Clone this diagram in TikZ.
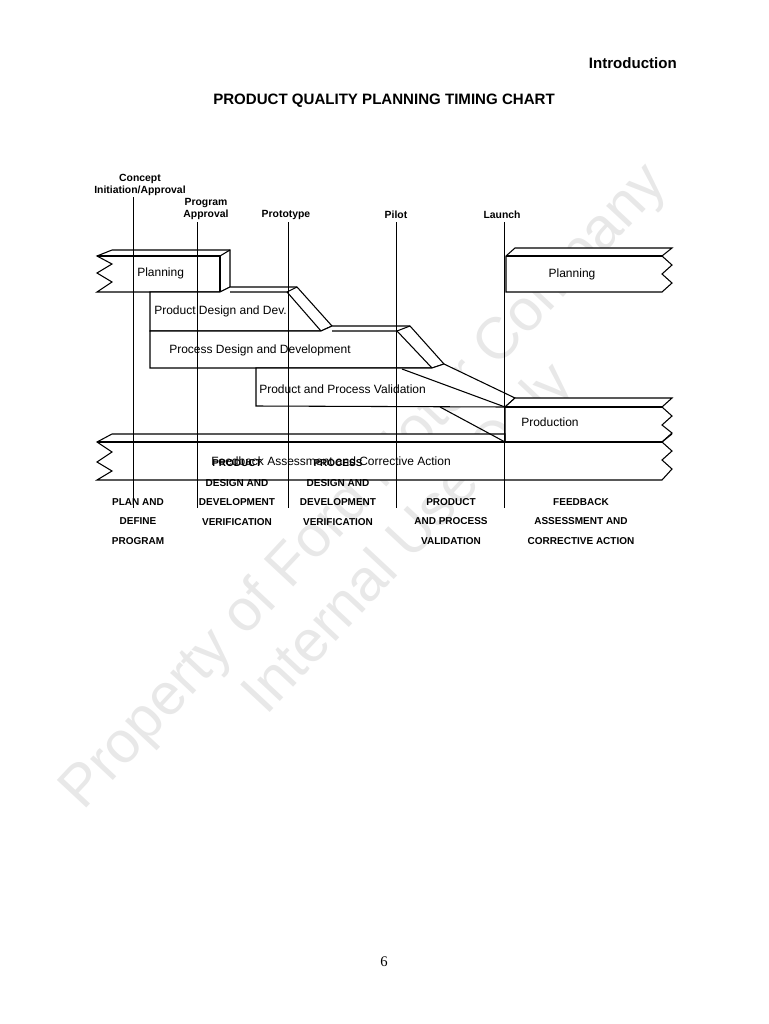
\documentclass[tikz,border=0pt]{standalone}
\usepackage{fontspec}
\setmainfont{Liberation Sans}
\begin{document}
\begin{tikzpicture}[x=0.75pt,y=-0.75pt,
  ln/.style={draw=black,line width=0.8pt,line join=miter},
  vl/.style={draw=black,line width=0.7pt},
  bar/.style={font=\fontsize{9}{11}\selectfont,inner sep=0pt},
  ms/.style={font=\bfseries\fontsize{7.8}{8.8}\selectfont,align=center,inner sep=0pt},
  bl/.style={font=\bfseries\fontsize{7.5}{14.6}\selectfont,align=center,inner sep=0pt},
  wm/.style={text=black!9,font=\fontsize{44}{48}\selectfont}]
\useasboundingbox (0,0) rectangle (768,1024);
% watermark
\node[wm,rotate=47] (wm1) at (365,488) {Property of Ford Motor Company};
\node[wm,rotate=47] (wm2) at (410,540) {Internal Use Only};
% header
\node[anchor=east,inner sep=0pt,font=\bfseries\fontsize{11.3}{13}\selectfont] (intro) at (677,63) {Introduction};
\node[inner sep=0pt,font=\bfseries\fontsize{11.3}{13}\selectfont] (title) at (384,101) {PRODUCT QUALITY PLANNING TIMING CHART};
% milestones
\node[ms] (m1) at (140,185) {Concept\\Initiation/Approval};
\node[ms] (m2) at (206,209) {Program\\Approval};
\node[ms] (m3) at (286,215) {Prototype};
\node[ms] (m4) at (396,215) {Pilot};
\node[ms] (m5) at (502,215) {Launch};
% Planning left
\draw[ln,fill=white] (112,250) -- (230,250) -- (230,287) -- (220,292) -- (97,292) -- (112,282) -- (97,273) -- (112,264) -- (97,256) -- (112,250);
\draw[ln] (97,256) -- (220,256) -- (220,292);
\draw[ln] (220,256) -- (230,250);
% Product design
\draw[ln,fill=white] (150,292) -- (220,292) -- (230,287) -- (297,287) -- (332,326) -- (321,331) -- (150,331) -- cycle;
\draw[ln] (230,292) -- (287,292) -- (321,331);
\draw[ln] (287,292) -- (297,287);
% Process design
\draw[ln,fill=white] (150,331) -- (321,331) -- (332,326) -- (410,326) -- (444,364) -- (432,368) -- (150,368) -- cycle;
\draw[ln] (332,331) -- (397,331) -- (432,368);
\draw[ln] (397,331) -- (410,326);
% Validation
\draw[ln,fill=white] (256,368) -- (432,368) -- (444,364) -- (515,398) -- (505,407) -- (256,406) -- cycle;
\draw[ln] (402,369) -- (505,407);
% Production
\draw[ln,fill=white] (505,407) -- (515,398) -- (672,398) -- (662,407) -- (672,416) -- (662,425) -- (672,433) -- (662,442) -- (505,442) -- cycle;
\draw[ln] (505,407) -- (662,407);
% Feedback
\draw[ln,fill=white] (112,434) -- (505,434) -- (505,442) -- (662,442) -- (672,434) -- (662,442) -- (672,451) -- (662,460) -- (672,469) -- (662,480) -- (97,480) -- (112,471) -- (97,462) -- (112,452) -- (97,442) -- cycle;
\draw[ln] (97,442) -- (662,442);
\draw[ln] (440,407) -- (505,442);
% Planning right
\draw[ln,fill=white] (506,256) -- (515,248) -- (672,248) -- (662,256) -- (672,265) -- (662,274) -- (672,283) -- (662,292) -- (506,292) -- cycle;
\draw[ln] (506,256) -- (662,256);
% bar labels
\node[bar,anchor=west] (t1) at (137,273) {Planning};
\node[bar,anchor=west] (t2) at (154,311) {Product Design and Dev.};
\node[bar,anchor=west] (t3) at (169,350) {Process Design and Development};
\node[bar,anchor=west] (t4) at (259,389) {Product and Process Validation};
\node[bar] (t5) at (572,274) {Planning};
\node[bar,anchor=west] (t6) at (521,422) {Production};
\node[bar,anchor=west] (t7) at (211,461) {Feedback Assessment and Corrective Action};
% milestone lines
\coordinate (b1) at (133,508); \coordinate (b2) at (197,508); \coordinate (b3) at (288,508);
\coordinate (b4) at (396,508); \coordinate (b5) at (504,508);
\draw[vl] (133,197) -- (b1);
\draw[vl] (197,222) -- (b2);
\draw[vl] (288,222) -- (b3);
\draw[vl] (396,222) -- (b4);
\draw[vl] (504,222) -- (b5);
% phase labels (baselines fixed)
\node[bl,anchor=base] (p1) at (138,544) {PLAN AND\\DEFINE\\PROGRAM};
\node[bl,anchor=base] (p2) at (237,525) {PRODUCT\\DESIGN AND\\DEVELOPMENT\\VERIFICATION};
\node[bl,anchor=base] (p3) at (338,525) {PROCESS\\DESIGN AND\\DEVELOPMENT\\VERIFICATION};
\node[bl,anchor=base] (p4) at (451,544) {PRODUCT\\AND PROCESS\\VALIDATION};
\node[bl,anchor=base] (p5) at (581,544) {FEEDBACK\\ASSESSMENT AND\\CORRECTIVE ACTION};
\node[font=\fontsize{11}{12}\selectfont] (pg) at (384,962) {\fontspec{Liberation Serif}6};
\end{tikzpicture}
\end{document}
